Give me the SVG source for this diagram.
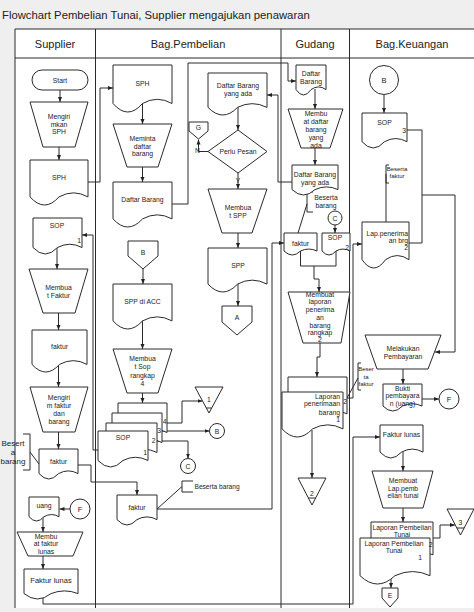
<svg xmlns="http://www.w3.org/2000/svg" width="474" height="612" viewBox="0 0 474 612">
<defs>
<marker id="ah" viewBox="0 0 10 10" refX="10" refY="5" markerWidth="5" markerHeight="5" orient="auto" markerUnits="userSpaceOnUse"><path d="M0,1 L10,5 L0,9 z" fill="#222"/></marker>
<style>
.ln{fill:none;stroke:#2a2a2a;stroke-width:1}
.ar{marker-end:url(#ah)}
.sh{fill:#fff;stroke:#2a2a2a;stroke-width:1}
.t{font-family:"Liberation Sans",Arial,sans-serif;font-size:6.8px;fill:#222;text-anchor:middle}
.e{text-anchor:end}
.s{text-anchor:start}
.hd{font-size:11px}
.an{font-size:6px}
</style>
</defs>
<rect x="0" y="0" width="474" height="612" fill="#efefef"/>
<rect x="15" y="29" width="459" height="579" fill="#fff"/>
<text x="2" y="18.5" class="t s" style="font-size:11.3px">Flowchart Pembelian Tunai, Supplier mengajukan penawaran</text>
<g id="lanes">
<path class="ln" d="M15,29 H474 M15,58 H474 M15,29 V608 M95.5,29 V608 M281,29 V608 M349.5,29 V608"/>
<text x="55" y="47.5" class="t hd">Supplier</text>
<text x="188" y="47.5" class="t hd">Bag.Pembelian</text>
<text x="315" y="47.5" class="t hd">Gudang</text>
<text x="412" y="47.5" class="t hd">Bag.Keuangan</text>
</g>
<g id="connectors">
<path class="ln ar" d="M60,90 V102"/>
<path class="ln ar" d="M59,147 V160"/>
<path class="ln ar" d="M88,182 H100 V88 H113"/>
<path class="ln ar" d="M57,247 V269"/>
<path class="ln ar" d="M58.5,313 V330"/>
<path class="ln ar" d="M58.5,365 V387"/>
<path class="ln ar" d="M58.5,432 V449"/>
<path class="ln ar" d="M78,465 H91 V482 H137 V495"/>
<path class="ln ar" d="M70,509 H59.5"/>
<path class="ln ar" d="M43,517 V532"/>
<path class="ln ar" d="M43,556 V569"/>
<path class="ln ar" d="M43,596 V604 H353 V437 H380"/>
<path class="ln ar" d="M142.5,103 V124"/>
<path class="ln ar" d="M142.5,167 V182"/>
<path class="ln ar" d="M172,204 H188 V63 H288 V81 H296"/>
<path class="ln ar" d="M292,182 H278 V95 H267"/>
<path class="ln ar" d="M238,107 V130"/>
<path class="ln ar" d="M208,151.5 H198.5 V139.5"/>
<path class="ln ar" d="M238,173 V189"/>
<path class="ln ar" d="M238,233 V248"/>
<path class="ln ar" d="M238,284 V306"/>
<path class="ln ar" d="M143,269 V284"/>
<path class="ln ar" d="M142.5,320 V349"/>
<path class="ln ar" d="M142.5,393 V403"/>
<path class="ln ar" d="M167,423 H182 V401 H202.5"/>
<path class="ln ar" d="M162,431 H209.5"/>
<path class="ln ar" d="M157,441 H188 V458.5"/>
<path class="ln ar" d="M98,450 H93 V235 H82"/>
<path class="ln ar" d="M157,509 H272 V243 H284"/>
<path class="ln ar" d="M315,89 V109"/>
<path class="ln ar" d="M315,148 V165"/>
<path class="ln ar" d="M335,225 V233"/>
<path class="ln" d="M300.5,250 V266 H336 V250"/>
<path class="ln ar" d="M314,266 V279 H319 V292"/>
<path class="ln ar" d="M320,342 V357 H317 V377"/>
<path class="ln ar" d="M312,430 V478"/>
<path class="ln ar" d="M347,398 H353 V244 H362"/>
<path class="ln ar" d="M384,94.5 V113"/>
<path class="ln" d="M407,130 H422 V243 H409"/>
<path class="ln ar" d="M422,195 H455 V352 H435"/>
<path class="ln ar" d="M403,369 V384"/>
<path class="ln ar" d="M422,399 H439"/>
<path class="ln ar" d="M403,452 V471"/>
<path class="ln ar" d="M403,508 V522"/>
<path class="ln ar" d="M433,538 H440 V525 H455"/>
<path class="ln ar" d="M391,577 V588"/>
<path class="ln" d="M23,434 H30 V470 H23 M30,452 L39,464"/>
<path class="ln" d="M193,481 H182 V492 H193 M182,486.5 L157,509"/>
<path class="ln" d="M313,192 H307 V212 H313 M307,204 L298,233"/>
<path class="ln" d="M389,165 H386 V183 H389 M386,174 V222"/>
<path class="ln" d="M361,363 H358 V390 H361 M358,378 L347,398"/>
</g>
<g id="supplier">
<g id="start"><rect class="sh" x="32" y="70" width="56" height="20" rx="10"/><text x="60" y="82.5" class="t">Start</text></g>
<g id="s_kirim_sph"><path class="sh" d="M30,102 H88 L75,147 H43 Z"/><text x="59" y="119" class="t">Mengiri</text><text x="59" y="126.5" class="t">mkan</text><text x="59" y="134" class="t">SPH</text></g>
<g id="s_sph"><path class="sh" d="M30,160 H88 V196.9 Q73.5,188.8 59,196.9 Q44.5,213.1 30,196.9 Z"/><text x="59" y="180" class="t">SPH</text></g>
<g id="s_sop"><path class="sh" d="M33,218 H82 V247.5 Q69.8,241 57.5,247.5 Q45.3,260.5 33,247.5 Z"/><text x="57" y="227.5" class="t">SOP</text><text x="81" y="243" class="t e">1</text></g>
<g id="s_buat_faktur"><path class="sh" d="M29,269 H88 L75,313 H43 Z"/><text x="58.5" y="289.5" class="t">Membua</text><text x="58.5" y="297.5" class="t">t Faktur</text></g>
<g id="s_faktur"><path class="sh" d="M32,330 H87 V364.4 Q73.3,356.9 59.5,364.4 Q45.8,379.6 32,364.4 Z"/><text x="59.5" y="348.5" class="t">faktur</text></g>
<g id="s_kirim_faktur"><path class="sh" d="M30,387 H88 L75,432 H43 Z"/><text x="59" y="399.5" class="t">Mengiri</text><text x="59" y="407.5" class="t">m faktur</text><text x="59" y="415.5" class="t">dan</text><text x="59" y="424" class="t">barang</text></g>
<g id="s_faktur2"><path class="sh" d="M39,449 H78 V473.6 Q68.3,468.2 58.5,473.6 Q48.8,484.4 39,473.6 Z"/><text x="58.5" y="463.5" class="t">faktur</text></g>
<g id="s_note"><text x="13" y="446" class="t" style="font-size:8px">Besert</text><text x="13" y="455" class="t" style="font-size:8px">a</text><text x="13" y="464" class="t" style="font-size:8px">barang</text></g>
<g id="s_uang"><path class="sh" d="M29,497 H59 V516.7 Q51.5,512.4 44,516.7 Q36.5,525.3 29,516.7 Z"/><text x="44" y="507.5" class="t">uang</text></g>
<g id="s_F"><circle class="sh" cx="80" cy="509" r="10"/><text x="80" y="511.7" class="t" style="font-size:7.5px">F</text></g>
<g id="s_buat_lunas"><path class="sh" d="M17,532 H83 L73,556 H28 Z"/><text x="46" y="538.5" class="t">Membu</text><text x="46" y="546" class="t">at faktur</text><text x="46" y="553.5" class="t">lunas</text></g>
<g id="s_faktur_lunas"><path class="sh" d="M24,569 H78 V593.6 Q64.5,588.2 51,593.6 Q37.5,604.4 24,593.6 Z"/><text x="51" y="583" class="t" style="font-size:7.5px">Faktur lunas</text></g>
</g>
<g id="pembelian">
<g id="p_sph"><path class="sh" d="M113,65 H172 V103.5 Q157.3,95.1 142.5,103.5 Q127.8,120.5 113,103.5 Z"/><text x="142.5" y="86" class="t">SPH</text></g>
<g id="p_minta"><path class="sh" d="M113,124 H172 L158,167 H127 Z"/><text x="142.5" y="140.5" class="t">Meminta</text><text x="142.5" y="148.5" class="t">daftar</text><text x="142.5" y="156" class="t">barang</text></g>
<g id="p_daftar"><path class="sh" d="M113,182 H172 V218.9 Q157.3,210.8 142.5,218.9 Q127.8,235.1 113,218.9 Z"/><text x="142.5" y="201.5" class="t">Daftar Barang</text></g>
<g id="p_dbya"><path class="sh" d="M208,73 H267 V107.4 Q252.3,99.9 237.5,107.4 Q222.8,122.6 208,107.4 Z"/><text x="238" y="87.5" class="t">Daftar Barang</text><text x="238" y="95.5" class="t">yang ada</text></g>
<g id="p_G"><path class="sh" d="M189,122 H208 V131 L198.5,139 L189,131 Z"/><text x="198.5" y="129.5" class="t">G</text></g>
<g id="p_perlu"><path class="sh" d="M238,130 L267,151.5 L238,173 L208,151.5 Z"/><text x="238" y="154" class="t">Perlu Pesan</text></g>
<text x="197.5" y="152.5" class="t">N</text>
<text x="238" y="182.5" class="t">Y</text>
<g id="p_buat_spp"><path class="sh" d="M208,189 H267 L252,233 H222 Z"/><text x="238" y="209.5" class="t">Membua</text><text x="238" y="217.5" class="t">t SPP</text></g>
<g id="p_spp"><path class="sh" d="M208,248 H267 V284.1 Q252.3,276.2 237.5,284.1 Q222.8,299.9 208,284.1 Z"/><text x="238" y="267.5" class="t">SPP</text></g>
<g id="p_A"><path class="sh" d="M222,306 H252 V322 L237,335 L222,322 Z"/><text x="237" y="319.5" class="t">A</text></g>
<g id="p_B"><path class="sh" d="M128,241 H158 V256 L143,269 L128,256 Z"/><text x="143" y="254.5" class="t">B</text></g>
<g id="p_spp_acc"><path class="sh" d="M113,284 H172 V320.9 Q157.3,312.8 142.5,320.9 Q127.8,337.1 113,320.9 Z"/><text x="142.5" y="303.5" class="t">SPP di ACC</text></g>
<g id="p_buat_sop"><path class="sh" d="M113,349 H172 L158,393 H127 Z"/><text x="142.5" y="360.5" class="t">Membua</text><text x="142.5" y="369" class="t">t Sop</text><text x="142.5" y="377.5" class="t">rangkap</text><text x="142.5" y="385.5" class="t">4</text></g>
<g id="p_sop_stack">
<path class="sh" d="M118,403 H167 V432.5 Q154.8,426 142.5,432.5 Q130.3,445.5 118,432.5 Z"/>
<path class="sh" d="M112,413 H162 V442.5 Q149.5,436 137,442.5 Q124.5,455.5 112,442.5 Z"/>
<path class="sh" d="M106,423 H157 V452.5 Q144.3,446 131.5,452.5 Q118.8,465.5 106,452.5 Z"/>
<path class="sh" d="M98,431 H148 V460.5 Q135.5,454 123,460.5 Q110.5,473.5 98,460.5 Z"/>
<text x="166.5" y="424" class="t e">4</text><text x="161" y="433" class="t e">3</text><text x="155.5" y="442.5" class="t e">2</text><text x="147" y="455" class="t e">1</text>
<text x="123" y="439.5" class="t">SOP</text>
</g>
<g id="p_store1"><path class="sh" d="M195,387 H223 L209,413 Z"/><path class="ln" d="M206.3,408 H211.7"/><text x="209" y="402" class="t">1</text></g>
<g id="p_circB"><circle class="sh" cx="217" cy="431" r="7.5"/><text x="217" y="433.5" class="t">B</text></g>
<g id="p_circC"><circle class="sh" cx="188" cy="466" r="7.5"/><text x="188" y="468.5" class="t">C</text></g>
<g id="p_faktur"><path class="sh" d="M117,495 H157 V519.6 Q147,514.2 137,519.6 Q127,530.4 117,519.6 Z"/><text x="137" y="509.5" class="t">faktur</text></g>
<g id="p_note"><text x="194.5" y="488.5" class="t s" style="font-size:6.6px">Beserta barang</text></g>
</g>
<g id="gudang">
<g id="g_daftar"><path class="sh" d="M296,65 H326 V89.6 Q318.5,84.2 311,89.6 Q303.5,100.4 296,89.6 Z"/><text x="311" y="75.5" class="t">Daftar</text><text x="311" y="84" class="t">Barang</text></g>
<g id="g_buat_dbya"><path class="sh" d="M288,109 H343 L330,148 H301 Z"/><text x="316" y="115.5" class="t">Membu</text><text x="316" y="123.5" class="t">at daftar</text><text x="316" y="132" class="t">barang</text><text x="316" y="140" class="t">yang</text><text x="316" y="148" class="t">ada</text></g>
<g id="g_dbya"><path class="sh" d="M292,165 H338 V189.6 Q326.5,184.2 315,189.6 Q303.5,200.4 292,189.6 Z"/><text x="315" y="176.5" class="t">Daftar Barang</text><text x="315" y="184.5" class="t">yang ada</text></g>
<g id="g_note"><text x="326" y="200" class="t">Beserta</text><text x="326" y="208" class="t">barang</text></g>
<g id="g_circC"><circle class="sh" cx="335" cy="218" r="7"/><text x="335" y="220.5" class="t">C</text></g>
<g id="g_faktur"><path class="sh" d="M284,233 H317 V251 Q308.8,247.1 300.5,251 Q292.3,259 284,251 Z"/><text x="300.5" y="245.5" class="t">faktur</text></g>
<g id="g_sop"><path class="sh" d="M322,233 H350 V251 Q343,247.1 336,251 Q329,259 322,251 Z"/><text x="335" y="239.5" class="t">SOP</text><text x="349" y="249.5" class="t e">2</text></g>
<g id="g_buat_lap"><path class="sh" d="M288,292 H350 L341,343 H303 Z"/><text x="320" y="296.5" class="t">Membuat</text><text x="320" y="304.3" class="t">laporan</text><text x="320" y="312.3" class="t">penerima</text><text x="320" y="320.3" class="t">an</text><text x="320" y="327.5" class="t">barang</text><text x="320" y="335.3" class="t">rangkap</text><text x="320" y="341.5" class="t">2</text></g>
<g id="g_lap_stack">
<path class="sh" d="M288,377 H347 V413.9 Q332.3,405.8 317.5,413.9 Q302.8,430.1 288,413.9 Z"/>
<path class="sh" d="M282,392 H343 V428.9 Q327.8,420.8 312.5,428.9 Q297.3,445.1 282,428.9 Z"/>
<text x="347" y="403.5" class="t e">2</text>
<text x="340" y="398.5" class="t e">Laporan</text><text x="340" y="406" class="t e">penerimaan</text><text x="340" y="414.5" class="t e">barang</text><text x="340" y="422" class="t e">1</text>
</g>
<g id="g_store2"><path class="sh" d="M298,478 H326 L312,505 Z"/><path class="ln" d="M308.4,498 H315.6"/><text x="312" y="495.5" class="t">2</text></g>
</g>
<g id="keuangan">
<g id="k_circB"><circle class="sh" cx="384" cy="80" r="14.5"/><text x="384" y="82.7" class="t" style="font-size:7.5px">B</text></g>
<g id="k_sop"><path class="sh" d="M362,113 H407 V141.7 Q395.8,135.4 384.5,141.7 Q373.3,154.3 362,141.7 Z"/><text x="384.5" y="124.5" class="t">SOP</text><text x="406" y="132.5" class="t e">3</text></g>
<g id="k_note1"><text x="397" y="170.5" class="t an">Beserta</text><text x="397" y="178" class="t an">faktur</text></g>
<g id="k_lap"><path class="sh" d="M362,222 H409 V259.7 Q397.3,251.4 385.5,259.7 Q373.8,276.3 362,259.7 Z"/><text x="408" y="235.5" class="t e">Lap.penerima</text><text x="408" y="242.5" class="t e">an brg</text><text x="408" y="249.5" class="t e">2</text></g>
<g id="k_bayar"><path class="sh" d="M365,335 H441 L428,369 H377 Z"/><text x="403" y="350.5" class="t">Melakukan</text><text x="403" y="358.5" class="t">Pembayaran</text></g>
<g id="k_note2"><text x="366" y="371" class="t an">Beser</text><text x="366" y="378.5" class="t an">ta</text><text x="366" y="385.5" class="t an">faktur</text></g>
<g id="k_bukti"><path class="sh" d="M383,384 H422 V406.1 Q412.3,401.3 402.5,406.1 Q392.8,415.9 383,406.1 Z"/><text x="402.5" y="390.5" class="t">Bukti</text><text x="402.5" y="398" class="t">pembayara</text><text x="402.5" y="405.5" class="t">n (uang)</text></g>
<g id="k_F"><circle class="sh" cx="449" cy="399" r="10"/><text x="449" y="401.7" class="t" style="font-size:7.5px">F</text></g>
<g id="k_faktur_lunas"><path class="sh" d="M380,425 H423 V452.1 Q412.3,446.1 401.5,452.1 Q390.8,463.9 380,452.1 Z"/><text x="401.5" y="436.5" class="t">Faktur lunas</text></g>
<g id="k_buat_lap"><path class="sh" d="M372,471 H433 L423,508 H383 Z"/><text x="403" y="482.5" class="t">Membuat</text><text x="403" y="490.5" class="t">Lap.pemb</text><text x="403" y="497.5" class="t">elian tunai</text></g>
<g id="k_lpt_stack">
<path class="sh" d="M371,522 H433 V554.8 Q417.5,547.6 402,554.8 Q386.5,569.2 371,554.8 Z"/>
<text x="402" y="529.5" class="t">Laporan Pembelian</text><text x="402" y="536.5" class="t">Tunai</text>
<path class="sh" d="M360,538 H430 V575.7 Q412.5,567.4 395,575.7 Q377.5,592.3 360,575.7 Z"/>
<text x="432.5" y="547" class="t e">2</text>
<text x="394" y="545.5" class="t">Laporan Pembelian</text><text x="394" y="553" class="t">Tunai</text><text x="422" y="560" class="t e">1</text>
</g>
<g id="k_store3"><path class="sh" d="M447,509 H474 L460.5,535 Z"/><path class="ln" d="M456.9,528 H464.1"/><text x="460.5" y="525" class="t">3</text></g>
<g id="k_E"><path class="sh" d="M382,588 H398 V598 L390,607 L382,598 Z"/><text x="390" y="597.5" class="t">E</text></g>
</g>
</svg>
